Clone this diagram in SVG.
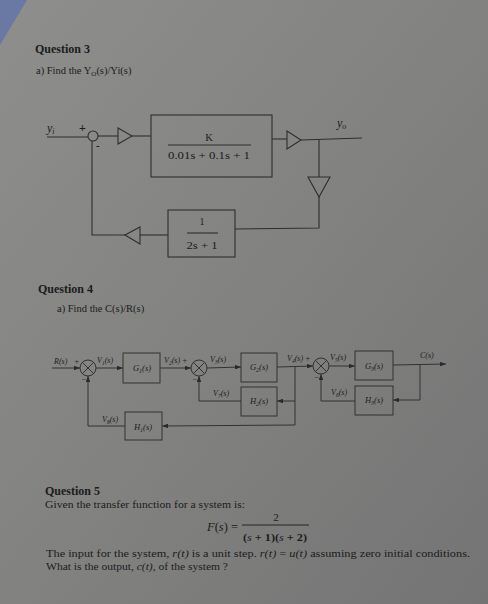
<svg xmlns="http://www.w3.org/2000/svg" width="488" height="604" viewBox="0 0 488 604">
<defs>
<linearGradient id="bg" x1="0" y1="0" x2="1" y2="1">
<stop offset="0" stop-color="#8e8e8c"/>
<stop offset="0.5" stop-color="#828281"/>
<stop offset="1" stop-color="#747474"/>
</linearGradient>
<marker id="ar" viewBox="0 0 8 6" refX="8" refY="3" markerWidth="6" markerHeight="4.5" orient="auto" markerUnits="userSpaceOnUse">
<path d="M0,0 L8,3 L0,6 Z" fill="#2a2a2a"/>
</marker>
<style>
text{font-family:"Liberation Serif","Times New Roman",serif;fill:#1c1c1c}
.h{font-weight:bold;font-size:12px}
.t{font-size:10.5px}
.d1{stroke:#2e2e2e;stroke-width:1.1;fill:none}
.d2{stroke:#333;stroke-width:1;fill:none}
.lb{font-size:8px;font-style:italic}
.bx{font-size:8.5px;font-style:italic}
.ct{text-anchor:middle}
</style>
</defs>
<rect width="488" height="604" fill="url(#bg)"/>
<polygon points="0,0 27,0 0,45" fill="#6a78a4"/>

<text class="h" x="35" y="53">Question 3</text>
<text class="t" x="36" y="74" font-size="10">a) Find the Y<tspan font-size="7" dy="2">O</tspan><tspan dy="-2">(s)/Yi(s)</tspan></text>

<g id="q3-connectors" class="d1">
<line x1="47" y1="137" x2="88" y2="137"/>
<line x1="98" y1="136" x2="118" y2="136"/>
<line x1="132" y1="136" x2="151" y2="136"/>
<line x1="272" y1="139" x2="287" y2="139"/>
<line x1="301" y1="140" x2="362" y2="138"/>
<polyline points="319,139 319,177"/>
<polyline points="319,197 319,228 235,229"/>
<line x1="168" y1="235" x2="140" y2="235"/>
<polyline points="125,235 92,235 92,141"/>
</g>
<g id="q3-sum"><circle class="d1" cx="93" cy="136" r="5"/>
<text x="79" y="132" font-size="12" font-weight="bold">+</text>
<text x="96" y="149" font-size="11" font-weight="bold">-</text></g>
<g id="q3-tri1"><polygon class="d1" points="118,128 118,144 132,136"/></g>
<g id="q3-tri2"><polygon class="d1" points="287,131 287,149 301,140"/></g>
<g id="q3-tri3"><polygon class="d1" points="308,177 330,177 319,197"/></g>
<g id="q3-tri4"><polygon class="d1" points="140,227 140,244 125,235"/></g>
<g id="q3-box1"><rect class="d1" x="151" y="115" width="121" height="62"/>
<text x="209" y="141" class="ct" font-size="10.5">K</text>
<line class="d1" x1="168" y1="145" x2="251" y2="145"/>
<text x="209" y="159" class="ct" font-size="10" textLength="82" lengthAdjust="spacingAndGlyphs">0.01s + 0.1s + 1</text></g>
<g id="q3-box2"><rect class="d1" x="168" y="210" width="67" height="47"/>
<text x="202" y="225" class="ct" font-size="10">1</text>
<line class="d1" x1="187" y1="233" x2="218" y2="233"/>
<text x="202" y="249" class="ct" font-size="10" textLength="31" lengthAdjust="spacingAndGlyphs">2s + 1</text></g>
<g id="q3-labels">
<text x="47" y="132" font-size="12" font-style="italic">y<tspan font-size="8" dy="1.5">i</tspan></text>
<text x="337" y="127" font-size="12" font-style="italic">y<tspan font-size="8" dy="1.5">o</tspan></text>
</g>

<text class="h" x="38" y="293">Question 4</text>
<text class="t" x="57" y="312">a)  Find the C(s)/R(s)</text>

<g id="q4-connectors" class="d2">
<line x1="52" y1="368" x2="80" y2="368" marker-end="url(#ar)"/>
<line x1="96" y1="368" x2="123" y2="368" marker-end="url(#ar)"/>
<line x1="160" y1="368" x2="191" y2="368" marker-end="url(#ar)"/>
<line x1="207" y1="368" x2="241" y2="367" marker-end="url(#ar)"/>
<line x1="277" y1="367" x2="313" y2="366" marker-end="url(#ar)"/>
<polyline points="295,367 295,425 162,426" marker-end="url(#ar)"/>
<line x1="295" y1="401" x2="277" y2="401" marker-end="url(#ar)"/>
<polyline points="241,401 199,401 199,376" marker-end="url(#ar)"/>
<polyline points="125,426 88,426 88,376" marker-end="url(#ar)"/>
<line x1="329" y1="366" x2="355" y2="366" marker-end="url(#ar)"/>
<line x1="393" y1="365" x2="446" y2="364" marker-end="url(#ar)"/>
<polyline points="420,365 420,400 393,400" marker-end="url(#ar)"/>
<polyline points="355,401 321,401 321,374" marker-end="url(#ar)"/>
</g>
<g id="q4-sum1"><circle class="d2" cx="88" cy="368" r="8"/><path class="d2" d="M82.3,362.3 L93.7,373.7 M93.7,362.3 L82.3,373.7"/></g>
<g id="q4-sum2"><circle class="d2" cx="199" cy="368" r="8"/><path class="d2" d="M193.3,362.3 L204.7,373.7 M204.7,362.3 L193.3,373.7"/></g>
<g id="q4-sum3"><circle class="d2" cx="321" cy="366" r="8"/><path class="d2" d="M315.3,360.3 L326.7,371.7 M326.7,360.3 L315.3,371.7"/></g>
<g id="q4-G1"><rect class="d2" x="123" y="353" width="37" height="30"/><text class="bx ct" x="142" y="371">G<tspan font-size="6" dy="1.5">1</tspan><tspan dy="-1.5">(s)</tspan></text></g>
<g id="q4-G2"><rect class="d2" x="241" y="353" width="36" height="29"/><text class="bx ct" x="259" y="370">G<tspan font-size="6" dy="1.5">2</tspan><tspan dy="-1.5">(s)</tspan></text></g>
<g id="q4-G3"><rect class="d2" x="355" y="351" width="38" height="29"/><text class="bx ct" x="374" y="369">G<tspan font-size="6" dy="1.5">3</tspan><tspan dy="-1.5">(s)</tspan></text></g>
<g id="q4-H1"><rect class="d2" x="125" y="412" width="37" height="28"/><text class="bx ct" x="143" y="430">H<tspan font-size="6" dy="1.5">1</tspan><tspan dy="-1.5">(s)</tspan></text></g>
<g id="q4-H2"><rect class="d2" x="241" y="387" width="36" height="29"/><text class="bx ct" x="259" y="404">H<tspan font-size="6" dy="1.5">2</tspan><tspan dy="-1.5">(s)</tspan></text></g>
<g id="q4-H3"><rect class="d2" x="355" y="386" width="38" height="29"/><text class="bx ct" x="374" y="403">H<tspan font-size="6" dy="1.5">3</tspan><tspan dy="-1.5">(s)</tspan></text></g>
<g id="q4-labels" class="lb">
<text class="lb" x="54" y="364">R(s)</text><text class="lb" x="74" y="364">+</text>
<text class="lb" x="97" y="363">V<tspan font-size="5.5" dy="1.5">1</tspan><tspan dy="-1.5">(s)</tspan></text>
<text class="lb" x="164" y="363">V<tspan font-size="5.5" dy="1.5">2</tspan><tspan dy="-1.5">(s) +</tspan></text>
<text class="lb" x="210" y="362">V<tspan font-size="5.5" dy="1.5">3</tspan><tspan dy="-1.5">(s)</tspan></text>
<text class="lb" x="287" y="361">V<tspan font-size="5.5" dy="1.5">4</tspan><tspan dy="-1.5">(s) +</tspan></text>
<text class="lb" x="330" y="360">V<tspan font-size="5.5" dy="1.5">5</tspan><tspan dy="-1.5">(s)</tspan></text>
<text class="lb" x="420" y="358">C(s)</text>
<text class="lb" x="213" y="396">V<tspan font-size="5.5" dy="1.5">7</tspan><tspan dy="-1.5">(s)</tspan></text>
<text class="lb" x="331" y="395">V<tspan font-size="5.5" dy="1.5">6</tspan><tspan dy="-1.5">(s)</tspan></text>
<text class="lb" x="102" y="422">V<tspan font-size="5.5" dy="1.5">8</tspan><tspan dy="-1.5">(s)</tspan></text>
<text class="lb" x="81" y="382">−</text><text class="lb" x="192" y="382">−</text><text class="lb" x="314" y="380">−</text>
</g>

<text class="h" x="45" y="495">Question 5</text>
<text class="t" x="45" y="508" textLength="200" lengthAdjust="spacingAndGlyphs">Given the transfer function for a system is:</text>
<g id="q5-formula">
<text x="207" y="531" font-size="12.5" font-style="italic">F<tspan font-style="normal">(</tspan>s<tspan font-style="normal">) =</tspan></text>
<text x="276" y="521" class="ct" font-size="11" font-family="Liberation Sans, sans-serif">2</text>
<line x1="242" y1="525" x2="309" y2="525" stroke="#1c1c1c" stroke-width="0.9"/>
<text x="275" y="541" class="ct" font-size="10.5" font-weight="bold" font-family="Liberation Sans, sans-serif" textLength="64" lengthAdjust="spacingAndGlyphs">(<tspan font-style="italic" font-weight="normal">s</tspan> + 1)(<tspan font-style="italic" font-weight="normal">s</tspan> + 2)</text>
</g>
<text class="t" x="46" y="557" textLength="424" lengthAdjust="spacingAndGlyphs">The input for the system, <tspan font-style="italic">r(t)</tspan> is a unit step. <tspan font-style="italic">r(t)</tspan> = <tspan font-style="italic">u(t)</tspan> assuming zero initial conditions.</text>
<text class="t" x="46" y="570" textLength="182" lengthAdjust="spacingAndGlyphs">What is the output, <tspan font-style="italic">c(t)</tspan>, of the system ?</text>
</svg>
